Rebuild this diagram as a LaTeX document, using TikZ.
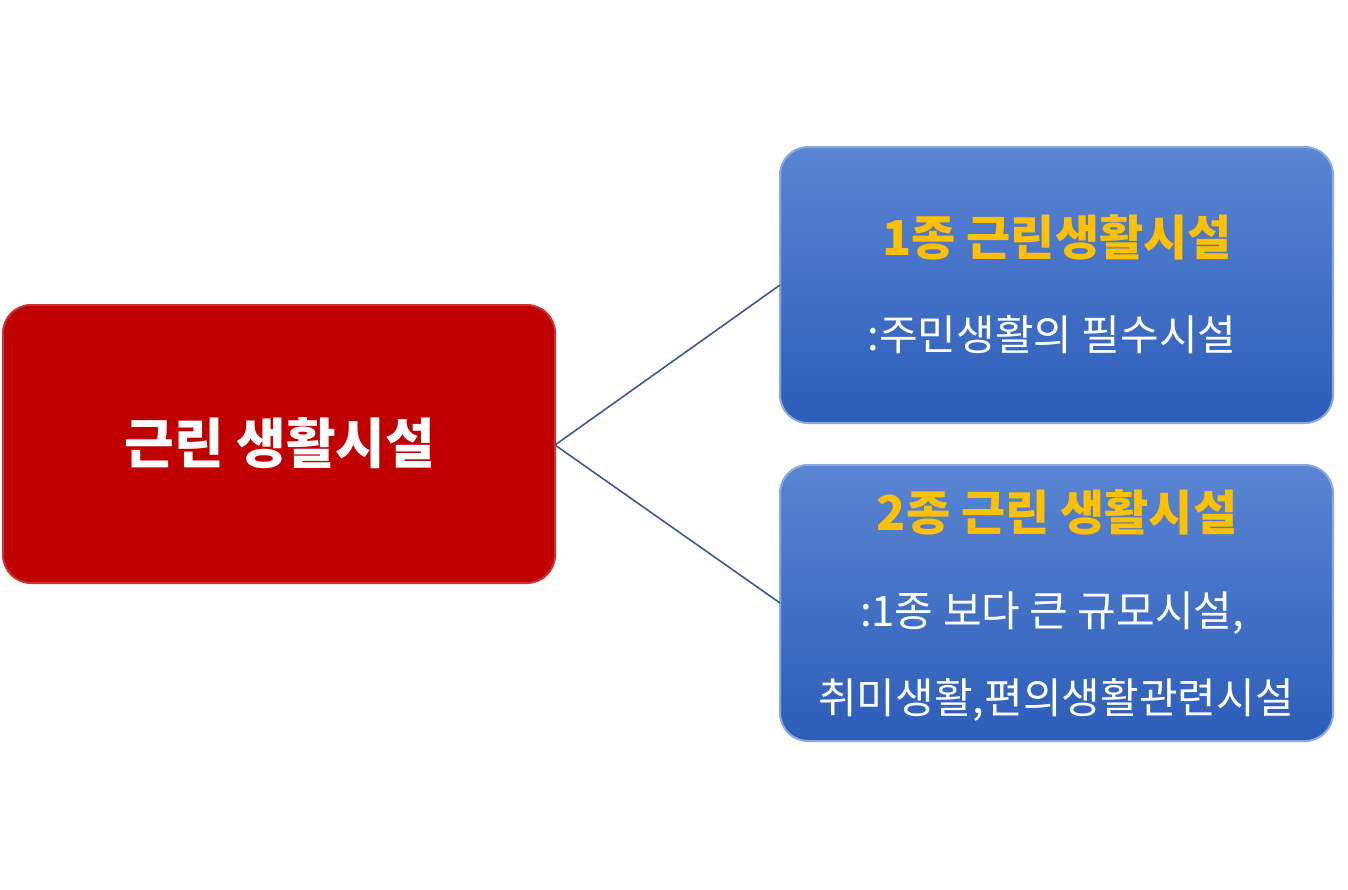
\documentclass[tikz,border=0pt]{standalone}
\usepackage{fontspec}
\setmainfont{Noto Sans CJK KR}
\definecolor{redbox}{HTML}{C00000}
\definecolor{bluetop}{HTML}{5A85D3}
\definecolor{bluebot}{HTML}{2C5DB9}
\definecolor{gold}{HTML}{FFC000}
\definecolor{linec}{HTML}{3A5A95}
\tikzset{
 redb/.style={rounded corners=14pt,fill=redbox,draw=redbox!80!white,line width=1pt},
 blueb/.style={rounded corners=14pt,top color=bluetop,bottom color=bluebot,draw=bluetop!70!white,line width=1pt},
 ttl/.style={text=gold,font=\bfseries\fontsize{24}{28}\selectfont},
 wt/.style={text=white,font=\fontsize{21}{25}\selectfont},
 conn/.style={draw=linec,line width=0.8pt}
}
\begin{document}
\begin{tikzpicture}[x=0.5pt,y=-0.5pt]
\useasboundingbox (0,0) rectangle (1348,889);
\path[redb] (3,305) rectangle (555,583);
\coordinate (L) at (555,445);
\node[text=white,font=\bfseries\fontsize{27}{30}\selectfont] (m) at (280,443) {근린 생활시설};
\path[blueb] (780,147) rectangle (1333,423);
\coordinate (A) at (780,285);
\node[ttl] (a1) at (1057,237) {1종 근린생활시설};
\node[wt] (a2) at (1052,335) {:주민생활의 필수시설};
\path[blueb] (780,465) rectangle (1333,741);
\coordinate (B) at (780,603);
\node[ttl] (b1) at (1057,512) {2종 근린 생활시설};
\node[wt] (b2) at (1052,613) {:1종 보다 큰 규모시설,};
\node[wt] (b3) at (1056,700) {취미생활,편의생활관련시설};
\draw[conn] (L) -- (A);
\draw[conn] (L) -- (B);
\end{tikzpicture}
\end{document}
